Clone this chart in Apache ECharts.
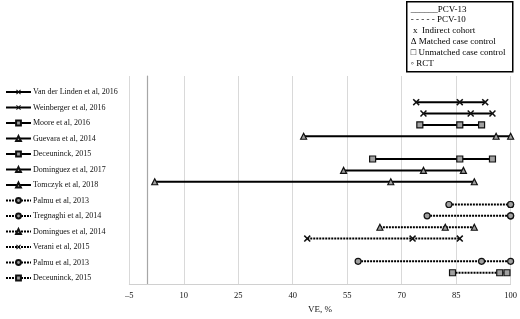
<!DOCTYPE html>
<html>
<head>
<meta charset="utf-8">
<script src="https://cdn.jsdelivr.net/npm/echarts@6/dist/echarts.min.js"></script>
<style>
  html, body { margin: 0; padding: 0; background: #fff; }
  #chart { width: 520px; height: 319px; }
</style>
</head>
<body>
<div id="chart"></div>
<script>
// studies, top to bottom
const studies = [
  'Van der Linden et al, 2016', 'Weinberger et al, 2016', 'Moore et al, 2016',
  'Guevara et al, 2014', 'Deceuninck, 2015', 'Dominguez et al, 2017',
  'Tomczyk et al, 2018', 'Palmu et al, 2013', 'Tregnaghi et al, 2014',
  'Domingues et al, 2014', 'Verani et al, 2015', 'Palmu et al, 2013',
  'Deceuninck, 2015'
];
// row slot of each study (gaps at 4, 8, 13)
const rowSlot = [0, 1, 2, 3, 5, 6, 7, 9, 10, 11, 12, 14, 15];
const lowVE   = [74, 76, 75, 43, 62, 54, 2, 83, 77, 64, 44, 58, 84];
const pointVE = [86, 89, 86, 96, 86, 76, 67, 100, 100, 82, 73, 92, 97];
const highVE  = [93, 95, 92, 100, 95, 87, 90, 100, 100, 90, 86, 100, 99];
const design  = ['cohort', 'cohort', 'unmatched', 'matched', 'unmatched', 'matched',
  'matched', 'rct', 'rct', 'matched', 'cohort', 'rct', 'unmatched'];
const vaccine = ['PCV-13', 'PCV-13', 'PCV-13', 'PCV-13', 'PCV-13', 'PCV-13', 'PCV-13',
  'PCV-10', 'PCV-10', 'PCV-10', 'PCV-10', 'PCV-10', 'PCV-10'];
const xMin = -5, xMax = 100, xStep = 15;

const crossPath = 'path://M0,1.5L1.5,0L5,3.5L8.5,0L10,1.5L6.5,5L10,8.5L8.5,10L5,6.5L1.5,10L0,8.5L3.5,5Z';
const symbolOf = {
  cohort: crossPath,
  matched: 'triangle',
  unmatched: 'rect',
  rct: 'circle'
};
const serif = 'Liberation Serif';

const series = studies.map((name, i) => {
  const y = 16 - rowSlot[i];
  const isCross = design[i] === 'cohort';
  return {
    name: name + '#' + i,
    type: 'line',
    data: [[lowVE[i], y], [pointVE[i], y], [highVE[i], y]],
    symbol: symbolOf[design[i]],
    symbolSize: isCross ? 7 : 6,
    showAllSymbol: true,
    clip: false,
    lineStyle: {
      color: '#000',
      width: 2,
      type: vaccine[i] === 'PCV-10' ? [2, 1] : 'solid'
    },
    itemStyle: isCross
      ? { color: '#111', borderWidth: 0 }
      : { color: '#a0a0a0', borderColor: '#111', borderWidth: 1.2 },
    emphasis: { disabled: true },
    animation: false
  };
});

const legendLines = [
  '______PCV-13',
  '- - - - - PCV-10',
  ' x  Indirect cohort',
  '\u0394 Matched case control',
  '\u25a1 Unmatched case control',
  '\u25e6 RCT'
];

const chart = echarts.init(document.getElementById('chart'));
chart.setOption({
  animation: false,
  backgroundColor: '#fff',
  grid: { left: 129.3, right: 5.5, top: 76, bottom: 29, containLabel: false },
  xAxis: {
    type: 'value',
    min: xMin,
    max: xMax,
    interval: xStep,
    name: 'VE, %',
    nameLocation: 'middle',
    nameGap: 20,
    nameTextStyle: { fontFamily: serif, fontSize: 9, color: '#111' },
    axisLine: { show: true, onZero: false, lineStyle: { color: '#d0d0d0', width: 1 } },
    axisTick: { show: false },
    axisLabel: {
      margin: 7, fontFamily: serif, fontSize: 8.5, color: '#111',
      formatter: v => (v < 0 ? '\u2013' + Math.abs(v) : String(v))
    },
    splitLine: { show: true, lineStyle: { color: '#d9d9d9', width: 1 } }
  },
  yAxis: {
    type: 'value',
    min: 0,
    max: 18.3,
    axisLine: { show: true, onZero: true, lineStyle: { color: '#a6a6a6', width: 1.2 } },
    axisTick: { show: false },
    axisLabel: { show: false },
    splitLine: { show: false }
  },
  legend: {
    orient: 'vertical',
    left: 0,
    top: 83,
    itemWidth: 25,
    itemHeight: 6,
    itemGap: 7.5,
    selectedMode: false,
    formatter: n => n.replace(/#\d+$/, ''),
    textStyle: { fontFamily: serif, fontSize: 8, color: '#111', lineHeight: 7, padding: [0, 0, 0, -3] },
    data: series.map(s => s.name)
  },
  graphic: [{
    type: 'group',
    left: 406,
    top: 1,
    children: [{
      type: 'rect',
      shape: { x: 0, y: 0, width: 106, height: 70 },
      style: { fill: '#fff', stroke: '#000', lineWidth: 1.5 }
    }].concat(legendLines.map((t, k) => ({
      type: 'text',
      x: 4,
      y: 3 + k * 10.8,
      style: { text: t, fontFamily: serif, fontSize: 9, fill: '#000' }
    })))
  }],
  series: series
});
</script>
</body>
</html>
